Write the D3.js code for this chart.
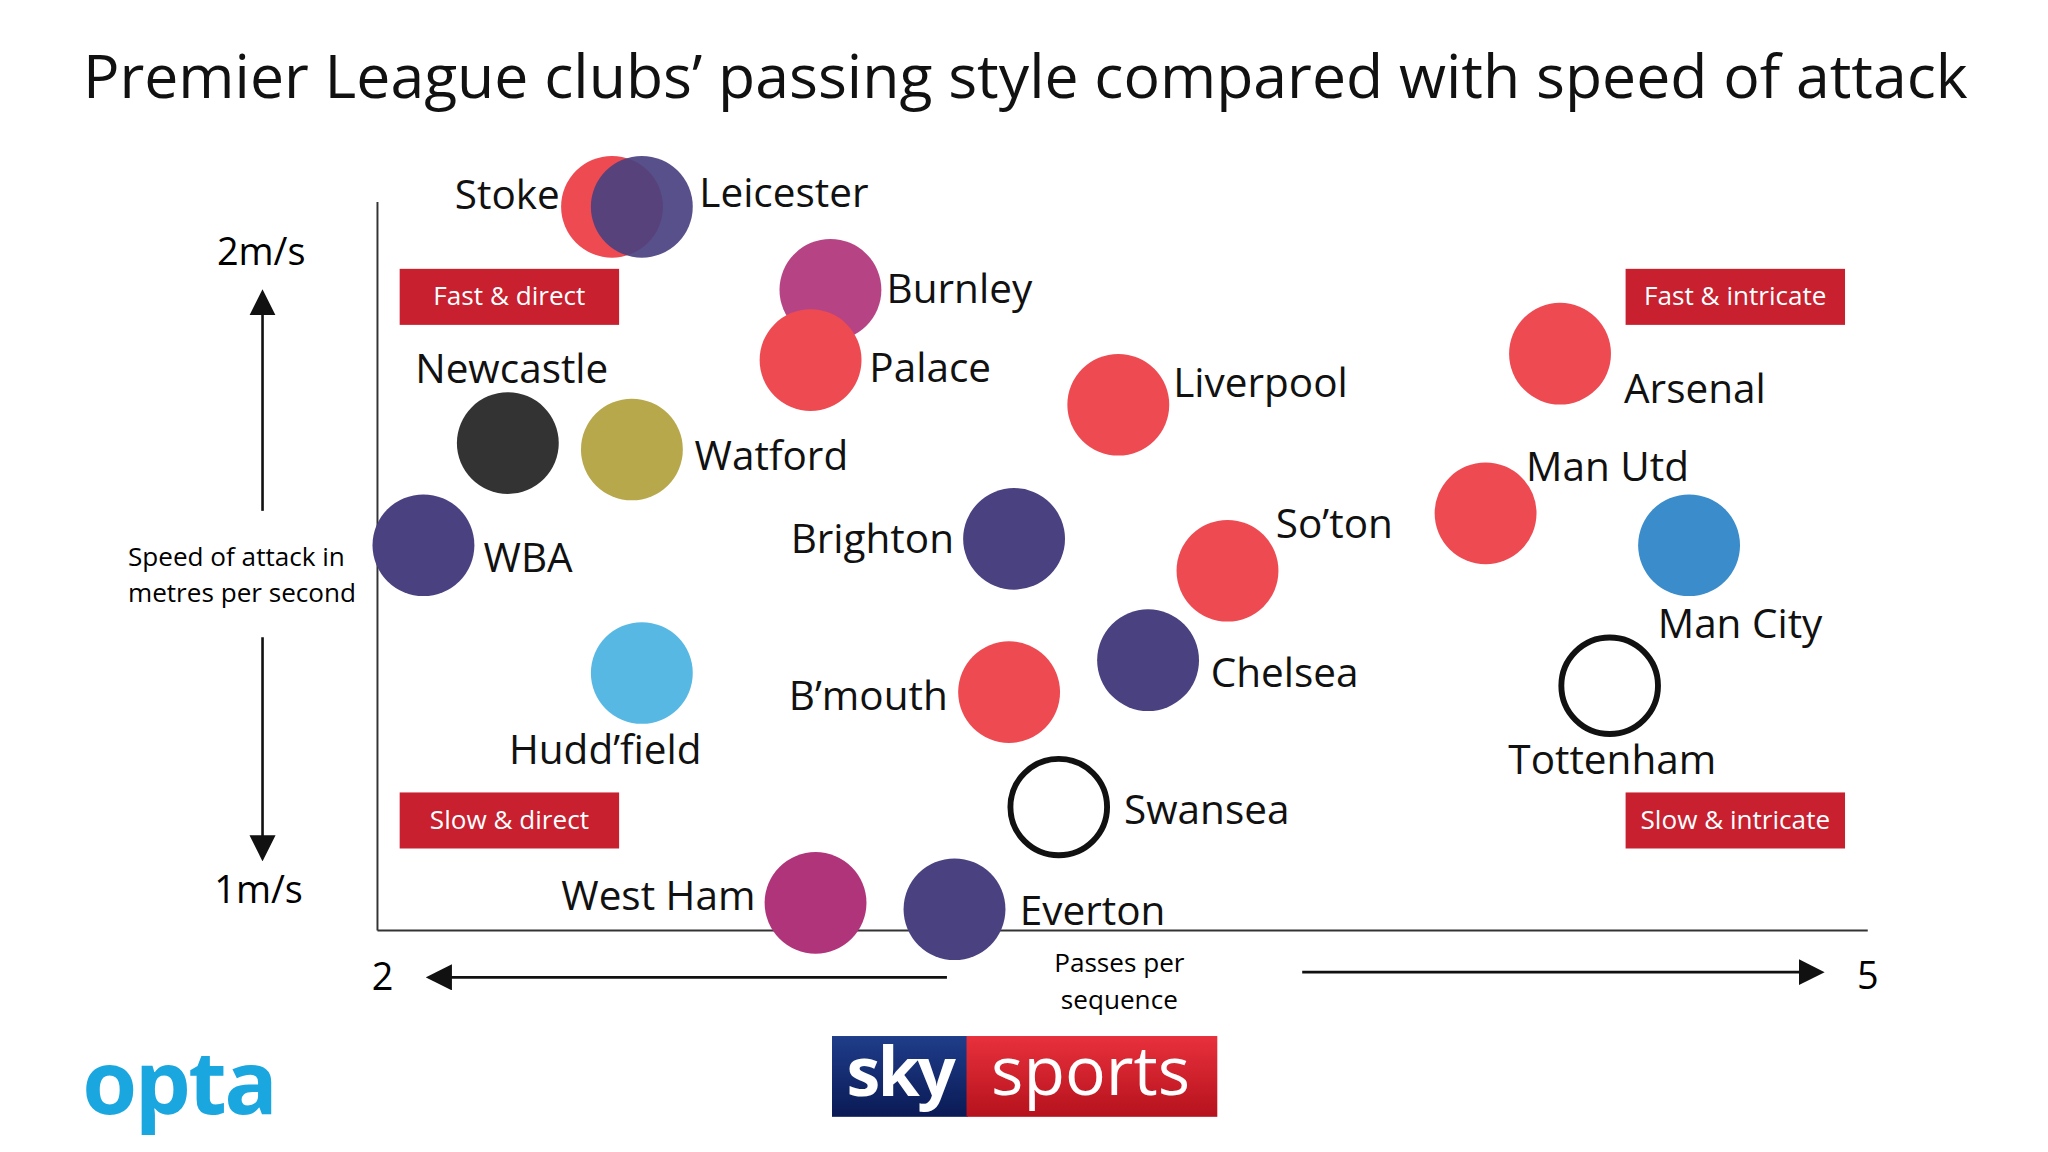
<!DOCTYPE html>
<html><head><meta charset="utf-8">
<script src="https://cdn.jsdelivr.net/npm/d3@7"></script>
<style>body{margin:0;background:#fff}svg{display:block}text{font-family:"Open Sans",sans-serif}</style>
</head><body>
<script>
// data
var clubs = ["Stoke","Leicester","Burnley","Palace","Newcastle","Watford","Liverpool","Arsenal","Man Utd","Man City","WBA","Brighton","So\u2019ton","Chelsea","Hudd\u2019field","B\u2019mouth","Tottenham","Swansea","West Ham","Everton"];
var passes = [2.47,2.53,2.91,2.87,2.26,2.51,3.49,4.38,4.23,4.64,2.09,3.28,3.71,3.55,2.53,3.27,4.48,3.37,2.88,3.16];
var speed  = [2.07,2.07,1.94,1.83,1.70,1.69,1.76,1.84,1.59,1.54,1.54,1.55,1.50,1.36,1.34,1.31,1.32,1.13,0.98,0.97];
var kitColours = ["#ee4a52","#4a4180","#b0347a","#ee4a52","#333333","#b8a84c","#ee4a52","#ee4a52","#ee4a52","#3a8ccb","#4a4180","#4a4180","#ee4a52","#4a4180","#58b8e4","#ee4a52","none","none","#b0347a","#4a4180"];
var quadrants = ["Fast & direct","Fast & intricate","Slow & direct","Slow & intricate"];
var quadX = [2, 4.47, 2, 4.47];   // axis units, left edge offset below
var quadY = [1.93, 1.93, 1.11, 1.11];

// label placement (dx, dy, anchor) relative to circle centre
var labelPos = {
  "Stoke":[-40,-10,"end"],"Leicester":[44,-12,"start"],"Burnley":[43,-2,"start"],"Palace":[45,5,"start"],
  "Newcastle":[3,-58,"middle"],"Watford":[48,4,"start"],"Liverpool":[42,-18,"start"],"Arsenal":[49,26,"start"],
  "Man Utd":[31,-37,"start"],"Man City":[-24,59,"start"],"WBA":[46,9,"start"],"Brighton":[-46,-1,"end"],
  "So\u2019ton":[37,-37,"start"],"Chelsea":[48,9,"start"],"Hudd\u2019field":[-28,58,"middle"],"B\u2019mouth":[-47,2,"end"],
  "Tottenham":[2,56,"middle"],"Swansea":[50,1,"start"],"West Ham":[-46,-6,"end"],"Everton":[50,0,"start"]
};

var W = 1568, H = 884;
var svg = d3.select("body").append("svg")
    .attr("width", 2048).attr("height", 1152)
    .attr("viewBox", "0 0 " + W + " " + H)
    .attr("preserveAspectRatio", "none");

var x = d3.scaleLinear().domain([2, 5]).range([290, 1430]);
var y = d3.scaleLinear().domain([1, 2]).range([683, 193]);

svg.append("text").attr("x", 785).attr("y", 75).attr("text-anchor", "middle")
    .attr("font-size", 46.5).attr("fill", "#111")
    .text("Premier League clubs\u2019 passing style compared with speed of attack");

// axes lines
svg.append("line").attr("x1", 289).attr("x2", 289).attr("y1", 155).attr("y2", 714).attr("stroke", "#333").attr("stroke-width", 1.5);
svg.append("line").attr("x1", 289).attr("x2", 1430).attr("y1", 714).attr("y2", 714).attr("stroke", "#333").attr("stroke-width", 1.5);

var defs = svg.append("defs");
defs.append("marker").attr("id", "head").attr("viewBox", "0 0 10 10").attr("refX", 8).attr("refY", 5)
    .attr("markerWidth", 9).attr("markerHeight", 9).attr("markerUnits", "userSpaceOnUse")
    .attr("orient", "auto")
    .append("path").attr("d", "M0,0L10,5L0,10Z").attr("fill", "#111");
defs.select("marker").attr("markerWidth", 20).attr("markerHeight", 20);

function arrow(x1, y1, x2, y2) {
  svg.append("line").attr("x1", x1).attr("y1", y1).attr("x2", x2).attr("y2", y2)
     .attr("stroke", "#111").attr("stroke-width", 2).attr("marker-end", "url(#head)");
}
arrow(201, 392, 201, 226);
arrow(201, 489, 201, 657);
arrow(725, 750, 330, 750);
arrow(997, 746, 1393, 746);

svg.append("text").attr("x", 200).attr("y", 203).attr("text-anchor", "middle").attr("font-size", 29).text("2m/s");
svg.append("text").attr("x", 198).attr("y", 693).attr("text-anchor", "middle").attr("font-size", 29).text("1m/s");
svg.append("text").attr("x", 98).attr("y", 434).attr("font-size", 20).text("Speed of attack in");
svg.append("text").attr("x", 98).attr("y", 462).attr("font-size", 20).text("metres per second");
svg.append("text").attr("x", 293).attr("y", 760).attr("text-anchor", "middle").attr("font-size", 29).text("2");
svg.append("text").attr("x", 1430).attr("y", 759).attr("text-anchor", "middle").attr("font-size", 29).text("5");
svg.append("text").attr("x", 857).attr("y", 746).attr("text-anchor", "middle").attr("font-size", 20).text("Passes per");
svg.append("text").attr("x", 857).attr("y", 774).attr("text-anchor", "middle").attr("font-size", 20).text("sequence");

// quadrant tags
var q = svg.selectAll("g.quad").data(quadrants).enter().append("g").attr("class", "quad")
    .attr("transform", function(d, i) { return "translate(" + (x(quadX[i]) + 16) + "," + y(quadY[i]) + ")"; });
q.append("rect").attr("x", 0).attr("y", -21).attr("width", 168).attr("height", 43).attr("fill", "#c8202f");
q.append("text").attr("x", 84).attr("y", 7).attr("text-anchor", "middle").attr("fill", "#fff").attr("font-size", 20).text(function(d) { return d; });

// circles
var idx = d3.range(clubs.length);
svg.selectAll("circle.club").data(idx).enter().append("circle").attr("class", "club")
    .attr("cx", function(i) { return x(passes[i]); })
    .attr("cy", function(i) { return y(speed[i]); })
    .attr("r", function(i) { return kitColours[i] === "none" ? 37 : 39; })
    .attr("fill", function(i) { return kitColours[i] === "none" ? "#fff" : kitColours[i]; })
    .attr("fill-opacity", function(i) { return (clubs[i] === "Leicester" || clubs[i] === "Burnley") ? 0.92 : 1; })
    .attr("stroke", function(i) { return kitColours[i] === "none" ? "#111" : "none"; })
    .attr("stroke-width", 4.5);

svg.selectAll("text.lab").data(idx).enter().append("text").attr("class", "lab")
    .attr("x", function(i) { return x(passes[i]) + labelPos[clubs[i]][0]; })
    .attr("y", function(i) { return y(speed[i]) + labelPos[clubs[i]][1]; })
    .attr("text-anchor", function(i) { return labelPos[clubs[i]][2]; })
    .attr("dominant-baseline", "central")
    .attr("font-size", 31).attr("fill", "#111")
    .text(function(i) { return clubs[i]; });

// logos
svg.append("text").attr("x", 63).attr("y", 855).attr("font-size", 68).attr("font-weight", "bold")
    .attr("fill", "#1aa7e0").attr("letter-spacing", -2).text("opta");
var g = defs.append("linearGradient").attr("id", "skyb").attr("x1", 0).attr("x2", 0).attr("y1", 0).attr("y2", 1);
g.append("stop").attr("offset", 0).attr("stop-color", "#1f3d8a");
g.append("stop").attr("offset", 1).attr("stop-color", "#0a1a55");
var r = defs.append("linearGradient").attr("id", "skyr").attr("x1", 0).attr("x2", 0).attr("y1", 0).attr("y2", 1);
r.append("stop").attr("offset", 0).attr("stop-color", "#e8313c");
r.append("stop").attr("offset", 1).attr("stop-color", "#b5121d");
svg.append("rect").attr("x", 637).attr("y", 795).attr("width", 104).attr("height", 62).attr("fill", "url(#skyb)");
svg.append("rect").attr("x", 740).attr("y", 795).attr("width", 192).attr("height", 62).attr("fill", "url(#skyr)");
svg.append("text").attr("x", 689).attr("y", 841).attr("text-anchor", "middle").attr("font-size", 52)
    .attr("font-weight", "bold").attr("fill", "#fff").attr("letter-spacing", -2).text("sky");
svg.append("text").attr("x", 835).attr("y", 840).attr("text-anchor", "middle").attr("font-size", 52)
    .attr("fill", "#fff").text("sports");
</script>
</body></html>
